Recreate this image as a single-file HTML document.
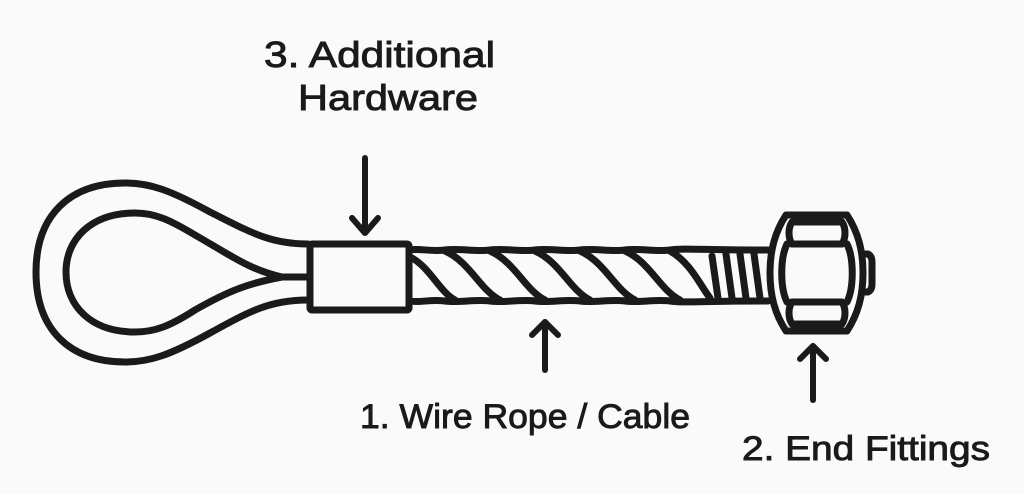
<!DOCTYPE html>
<html><head><style>
html,body{margin:0;padding:0;background:#fafafa;}
svg{display:block}
text{font-family:"Liberation Sans",sans-serif;fill:#1a1a1a;stroke:#1a1a1a;stroke-width:0.9;}
</style></head><body>
<svg width="1024" height="494" viewBox="0 0 1024 494" xmlns="http://www.w3.org/2000/svg">
<rect width="1024" height="494" fill="#fafafa"/>
<g fill="none" stroke="#1a1a1a" stroke-width="7" stroke-linejoin="round" stroke-linecap="round">
<path d="M308,244 C270,244 250,232 210,212 C170,190 150,183 125,183 C70,183 36,215 36,272 C36,330 70,362 125,362 C150,362 170,355 210,333 C250,311 270,300 308,300"/>
<path d="M308,277 L282,277 C250,270 230,255 195,235 C170,220 155,213 135,213 C90,213 66,240 66,272 C66,305 90,332 135,332 C155,332 170,326 195,310 C230,290 250,283 282,277"/>
<rect x="310" y="244" width="99" height="66" rx="2"/>
<path d="M410,250 C420,248 430,252 445,250 C460,248 475,252 490,250 C505,248 520,252 535,250 C550,248 565,252 580,250 C595,248 610,252 625,250 C640,248 655,252 670,250 C685,248 700,250 768,250"/>
<path d="M410,301 C420,303 430,299 445,301 C460,303 475,299 490,301 C505,303 520,299 535,301 C550,303 565,299 580,301 C595,303 610,299 625,301 C640,303 655,299 670,301 C685,303 700,301 768,301"/>
<path d="M412,258 C430,268 440,292 455,300"/>
<path d="M445,251 C470,262 480,290 500,300"/>
<path d="M490,251 C515,262 525,290 545,300"/>
<path d="M535,251 C560,262 570,290 590,300"/>
<path d="M580,251 C605,262 615,290 635,300"/>
<path d="M625,251 C650,262 660,290 680,300"/>
<path d="M670,251 C690,262 700,285 710,298"/>
<path d="M712,256 L718,298"/>
<path d="M726,254 L732,298"/>
<path d="M740,254 L746,298"/>
<path d="M754,254 L760,298"/>
<path d="M786,215 L847,215 C858,232 863,250 863,273 C863,296 858,314 847,331 L786,331 C775,314 770,296 770,273 C770,250 775,232 786,215 Z"/>
<path d="M792,222 L842,222 C846,228 846,238 842,244 L792,244 C788,238 788,228 792,222 Z"/>
<path d="M792,302 L842,302 C846,308 846,318 842,324 L792,324 C788,318 788,308 792,302 Z"/>
<path d="M787,244 C780,258 780,288 787,302"/>
<path d="M847,244 C854,258 854,288 847,302"/>
<path d="M863,254 L868,254 Q872,256 872,262 L872,284 Q872,290 868,292 L863,292"/>
</g>
<g stroke="#1a1a1a" stroke-width="6" fill="none" stroke-linecap="round" stroke-linejoin="round">
<line x1="365" y1="158" x2="365" y2="232"/>
<polyline points="352,218 365,233 378,218"/>
<line x1="545" y1="322" x2="545" y2="370"/>
<polyline points="532,335 545,322 558,335"/>
<line x1="813" y1="346" x2="813" y2="400"/>
<polyline points="800,359 813,346 826,359"/>
</g>
<text x="264" y="67" font-size="36" textLength="231" lengthAdjust="spacingAndGlyphs">3. Additional</text>
<text x="298" y="110" font-size="36" textLength="180" lengthAdjust="spacingAndGlyphs">Hardware</text>
<text x="360" y="428" font-size="34" textLength="330" lengthAdjust="spacingAndGlyphs">1. Wire Rope / Cable</text>
<text x="742" y="460" font-size="34" textLength="248" lengthAdjust="spacingAndGlyphs">2. End Fittings</text>
</svg>
</body></html>
